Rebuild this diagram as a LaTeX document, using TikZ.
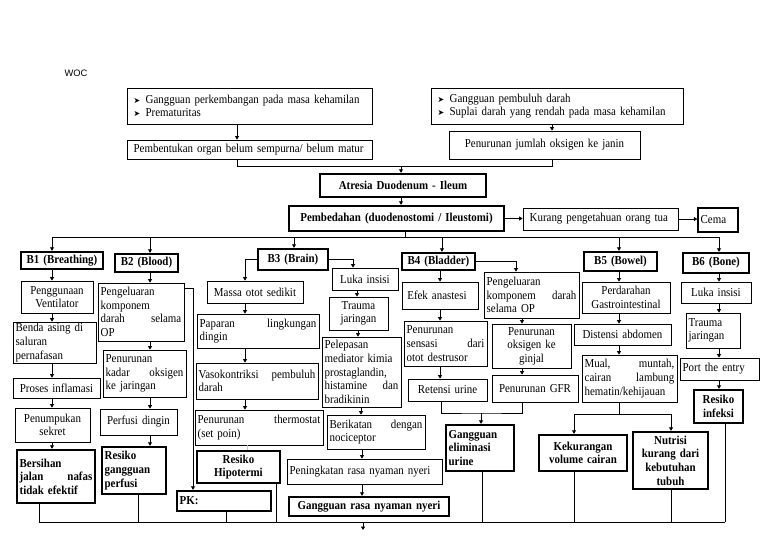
\documentclass[tikz,border=0pt]{standalone}
\usepackage{fontspec}
\setmainfont{Liberation Serif}[FakeStretch=0.9]
\newfontfamily\symf{DejaVu Sans}
\newfontfamily\wocf{Liberation Sans}
\usetikzlibrary{arrows.meta}
\newcommand\fs{\fontsize{9.1}{10.2}\selectfont}
\newcommand\bul{\makebox[9pt][l]{\symf\fontsize{6}{6}\selectfont ➤}}
\newcommand\mybox[7]{%
  \pgfmathsetmacro\bw{(#4-#2)*0.75}%
  \pgfmathsetmacro\bh{(#5-#3)*0.75}%
  \pgfmathsetmacro\tw{\bw-4}%
  \node[#6, minimum width=\bw pt, minimum height=\bh pt, text width=\tw pt] (#1) at ({(#2+#4)/2},{(#3+#5)/2}) {#7};}
\newcommand\varr[3]{\draw[arr] (#1.south -| #3,0) -- (#2.north -| #3,0);}
\tikzset{
  box/.style={draw, line width=0.6pt, inner xsep=2pt, inner ysep=1pt, font=\fs, align=left},
  cbox/.style={box, align=center},
  tbox/.style={box, line width=1.8pt, font=\fs\bfseries},
  tcbox/.style={tbox, align=center},
  arr/.style={-{Triangle[length=2.6pt,width=3pt]}, line width=0.6pt},
  ln/.style={line width=0.6pt},
}
\begin{document}
\begin{tikzpicture}[x=0.75pt,y=-0.75pt]
\useasboundingbox[fill=white] (0,0) rectangle (768,543);
\node[font=\wocf\fontsize{7}{8}\selectfont] (woc) at (76,73) {WOC};
% top
\mybox{A1}{127}{88}{372}{124}{box}{\hspace*{3pt}\bul Gangguan perkembangan pada masa kehamilan\\\hspace*{3pt}\bul Prematuritas}
\mybox{A2}{127}{140}{372}{159}{box}{\hspace*{3pt}Pembentukan organ belum sempurna/ belum matur}
\mybox{Bq1}{431}{88}{683}{124}{box}{\hspace*{3pt}\bul Gangguan pembuluh darah\\\hspace*{3pt}\bul Suplai darah yang rendah pada masa kehamilan}
\mybox{Bq2}{449}{131}{640}{159}{cbox}{Penurunan jumlah oksigen ke janin}
\mybox{atr}{320}{174}{486}{197}{tcbox}{Atresia Duodenum - Ileum}
\mybox{pem}{289}{206}{504}{231}{tcbox}{Pembedahan (duodenostomi / Ileustomi)}
\mybox{kur}{523}{208}{678}{230}{box}{\hspace*{3pt}Kurang pengetahuan orang tua}
\mybox{cem}{698}{208}{738}{232}{box,line width=1.1pt}{Cema}
% B row
\mybox{b1}{21}{252}{103}{269}{tcbox}{B1 (Breathing)}
\mybox{b2}{115}{254}{178}{272}{tcbox}{B2 (Blood)}
\mybox{b3}{258}{249}{328}{270}{tcbox}{B3 (Brain)}
\mybox{b4}{402}{253}{475}{270}{tcbox}{B4 (Bladder)}
\mybox{b5}{584}{252}{657}{271}{tcbox}{B5 (Bowel)}
\mybox{b6}{683}{253}{749}{273}{tcbox}{B6 (Bone)}
% B1
\mybox{c11}{21}{281}{93}{313}{cbox}{Penggunaan\\Ventilator}
\mybox{c12}{13}{323}{96}{362}{box}{Benda asing di\\saluran\\pernafasan}
\mybox{c13}{13}{378}{100}{398}{cbox}{Proses inflamasi}
\mybox{c14}{15}{408}{90}{442}{cbox}{Penumpukan\\sekret}
\mybox{c15}{17}{450}{95}{503}{tbox}{Bersihan\\jalan\hfill nafas\\tidak efektif}
% B2
\mybox{c21}{98}{283}{184}{341}{box}{Pengeluaran\\komponem\\darah\hfill selama\\OP}
\mybox{c22}{103}{350}{186}{397}{box}{Penurunan\\kadar\hfill oksigen\\ke jaringan}
\mybox{c23}{100}{409}{177}{435}{cbox}{Perfusi dingin}
\mybox{c24}{102}{447}{166}{494}{tbox}{Resiko\\gangguan\\perfusi}
\mybox{pk}{177}{491}{271}{511}{tbox}{PK:}
% B3
\mybox{c31}{207}{281}{303}{303}{cbox}{Massa otot sedikit}
\mybox{c32}{197}{314}{319}{348}{box}{Paparan\hfill lingkungan\\dingin}
\mybox{c33}{196}{363}{318}{399}{box}{Vasokontriksi\hfill pembuluh\\darah}
\mybox{c34}{195}{410}{323}{445}{box}{Penurunan\hfill thermostat\\(set poin)}
\mybox{c35}{197}{451}{280}{483}{tcbox}{Resiko\\Hipotermi}
\mybox{c36}{332}{268}{398}{290}{cbox}{Luka insisi}
\mybox{c37}{329}{297}{388}{330}{cbox}{Trauma\\jaringan}
\mybox{c38}{322}{337}{401}{407}{box}{Pelepasan\\mediator kimia\\prostaglandin,\\histamine\hfill dan\\bradikinin}
\mybox{c39}{327}{415}{425}{449}{box}{Berikatan\hfill dengan\\nociceptor}
\mybox{c3a}{287}{459}{442}{484}{box}{Peningkatan rasa nyaman nyeri}
\mybox{c3b}{289}{497}{449}{516}{tcbox}{Gangguan rasa nyaman nyeri}
% B4
\mybox{c41}{402}{282}{478}{309}{box}{\hspace*{2pt}Efek anastesi}
\mybox{c42}{404}{321}{487}{366}{box}{Penurunan\\sensasi\hfill dari\\otot destrusor}
\mybox{c43}{408}{379}{487}{401}{cbox}{Retensi urine}
\mybox{c44}{484}{272}{579}{318}{box}{Pengeluaran\\komponem\hfill darah\\selama OP}
\mybox{c45}{492}{324}{571}{368}{cbox}{Penurunan\\oksigen ke\\ginjal}
\mybox{c46}{492}{375}{578}{402}{cbox}{Penurunan GFR}
\mybox{c47}{446}{425}{514}{471}{tbox}{Gangguan\\eliminasi\\urine}
% B5
\mybox{c51}{582}{282}{670}{313}{cbox}{Perdarahan\\Gastrointestinal}
\mybox{c52}{574}{324}{671}{345}{cbox}{Distensi abdomen}
\mybox{c53}{582}{355}{677}{402}{box}{Mual,\hfill muntah,\\cairan\hfill lambung\\hematin/kehijauan}
\mybox{c54}{539}{435}{627}{471}{tcbox}{Kekurangan\\volume cairan}
\mybox{c55}{633}{432}{708}{489}{tcbox}{Nutrisi\\kurang dari\\kebutuhan\\tubuh}
% B6
\mybox{c61}{681}{282}{751}{303}{cbox}{Luka insisi}
\mybox{c62}{686}{313}{740}{348}{box}{Trauma\\jaringan}
\mybox{c63}{680}{358}{759}{380}{box}{Port the entry}
\mybox{c64}{694}{390}{743}{423}{tcbox}{Resiko\\infeksi}
% coordinates
\coordinate (j1) at (401,166);
\coordinate (tl) at (52,237);
\coordinate (tr) at (719,237);
\coordinate (tp) at (405,237);
\coordinate (t2) at (150,237);
\coordinate (t3) at (294,237);
\coordinate (t4) at (442,237);
\coordinate (t5) at (619,237);
\coordinate (bl) at (39,522);
\coordinate (br) at (725,522);
\coordinate (bo) at (363,522);
\coordinate (bo2) at (363,530);
\coordinate (m4) at (481,413);
\coordinate (m5) at (619,414);
% top connectors
\varr{A1}{A2}{237}
\varr{Bq1}{Bq2}{552}
\draw[ln] (A2.south -| 237,0) |- (j1);
\draw[ln] (Bq2.south -| 552,0) |- (j1);
\draw[arr] (j1) -- (atr.north -| j1);
\varr{atr}{pem}{401}
\draw[arr] (pem.east) -- (pem.east -| kur.west);
\draw[arr] (kur.east) -- (kur.east -| cem.west);
\draw[ln] (pem.south -| tp) -- (tp);
\draw[ln] (tl) -- (tr);
\draw[arr] (tl) -- (b1.north -| tl);
\draw[arr] (t2) -- (b2.north -| t2);
\draw[arr] (t3) -- (b3.north -| t3);
\draw[arr] (t4) -- (b4.north -| t4);
\draw[arr] (t5) -- (b5.north -| t5);
\draw[arr] (tr) -- (b6.north -| tr);
% B1
\varr{b1}{c11}{52}
\varr{c11}{c12}{52}
\varr{c12}{c13}{52}
\varr{c13}{c14}{52}
\varr{c14}{c15}{52}
\draw[ln] (c15.south -| bl) -- (bl);
% B2
\varr{b2}{c21}{150}
\varr{c21}{c22}{150}
\varr{c22}{c23}{150}
\varr{c23}{c24}{150}
\draw[ln] (c24.south -| 138,0) -- (138,522);
\draw[arr] (c21.east |- 0,288) -| (pk.north -| 193,0);
\draw[ln] (pk.south -| 226,0) -- (226,522);
% B3
\draw[arr] (b3.west) -| (c31.north -| 245,0);
\varr{c31}{c32}{245}
\varr{c32}{c33}{245}
\varr{c33}{c34}{245}
\draw[ln, gray!45] (c34.south -| 247,0) -- (c35.north -| 247,0);
\draw[ln] (c35.south -| 276,0) -- (276,522);
\draw[arr] (b3.east) -| (c36.north -| 353,0);
\varr{c36}{c37}{357}
\varr{c37}{c38}{358}
\varr{c38}{c39}{361}
\varr{c39}{c3a}{362}
\varr{c3a}{c3b}{362}
% B4
\varr{b4}{c41}{440}
\varr{c41}{c42}{440}
\varr{c42}{c43}{440}
\draw[arr] (b4.east) -| (c44.north -| 516,0);
\varr{c44}{c45}{522}
\varr{c45}{c46}{522}
\draw[ln] (c43.south -| 441,0) |- (m4) -| (c46.south -| 522,0);
\draw[arr] (m4) -- (c47.north -| m4);
\draw[ln] (c47.south -| 482,0) -- (482,522);
% B5
\varr{b5}{c51}{619}
\varr{c51}{c52}{619}
\varr{c52}{c53}{619}
\draw[ln] (c53.south -| m5) -- (m5);
\draw[arr] (m5) -| (c54.north -| 574,0);
\draw[arr] (m5) -| (c55.north -| 671,0);
\draw[ln] (c54.south -| 574,0) -- (574,522);
\draw[ln] (c55.south -| 671,0) -- (671,522);
% B6
\varr{b6}{c61}{719}
\varr{c61}{c62}{719}
\varr{c62}{c63}{719}
\varr{c63}{c64}{719}
\draw[ln] (c64.south -| br) -- (br);
% bottom bus
\draw[ln] (bl) -- (br);
\draw[arr] (bo) -- (bo2);
\end{tikzpicture}
\end{document}
